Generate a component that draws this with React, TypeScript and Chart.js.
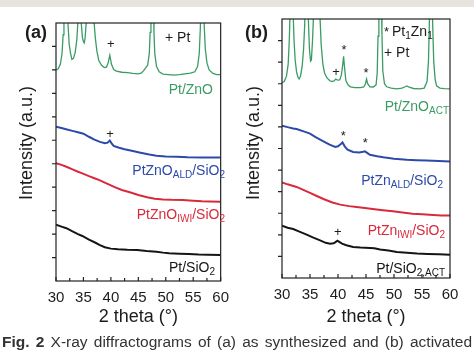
import { useEffect, useRef } from 'react';
import { Chart, registerables } from 'chart.js';
Chart.register(...registerables);

const FONT = '"Liberation Sans", Arial, Helvetica, sans-serif';

// ---------- data: [2θ (°), intensity (a.u.)] ----------
// Panel (a): as synthesized
const ptZnO: [number, number][] = [
  [30.0, 9.0], [30.4, 9.05], [30.8, 9.25], [31.1, 9.7], [31.3, 10.5], [31.45, 11.6], [31.6, 13.5], [31.75, 16],
  [31.9, 14], [32.05, 12], [32.2, 10.9], [32.4, 10.1], [32.65, 9.7], [32.9, 9.45], [33.2, 9.5], [33.5, 9.75],
  [33.8, 10.3], [34.0, 11.1], [34.15, 12.5], [34.3, 16], [34.45, 12.5], [34.6, 11.0], [34.8, 10.4], [35.0, 10.2],
  [35.15, 10.15], [35.3, 10.35], [35.5, 11.0], [35.7, 12.2], [36.0, 15], [36.25, 18], [36.5, 15], [36.8, 11.8],
  [36.95, 11.0], [37.15, 10.4], [37.45, 9.8], [37.8, 9.4], [38.3, 9.2], [38.8, 9.1], [39.2, 9.12], [39.5, 9.3],
  [39.8, 9.62], [40.1, 9.25], [40.5, 9.02], [41.0, 8.95], [42.0, 8.9], [43.0, 8.88], [44.0, 8.85], [45.0, 8.83],
  [45.6, 8.87], [46.0, 8.98], [46.3, 9.08], [46.7, 9.2], [47.0, 9.7], [47.15, 10.6], [47.3, 12.5], [47.5, 16],
  [47.7, 12.5], [47.85, 10.6], [48.0, 9.7], [48.3, 9.15], [48.8, 8.92], [49.5, 8.82], [50.5, 8.8], [51.5, 8.78],
  [52.5, 8.8], [53.5, 8.83], [54.5, 8.86], [55.3, 8.92], [55.8, 9.15], [56.1, 9.7], [56.3, 10.8], [56.45, 12.5],
  [56.65, 16], [56.85, 12.5], [57.0, 10.9], [57.2, 9.9], [57.5, 9.3], [57.9, 9.0], [58.6, 8.85], [59.3, 8.8], [60.0, 8.8],
];
const ptZnOAld: [number, number][] = [
  [30, 6.58], [31, 6.52], [32, 6.46], [33, 6.4], [34, 6.34], [35, 6.28], [36, 6.15], [37, 6.03], [38, 5.93],
  [38.9, 5.87], [39.4, 5.9], [39.8, 5.99], [40.1, 5.88], [40.5, 5.76], [41.5, 5.68], [42.5, 5.62], [44, 5.54],
  [45.4, 5.47], [47, 5.39], [48.3, 5.34], [50, 5.31], [52, 5.3], [54, 5.28], [56.6, 5.27], [58, 5.27], [60, 5.27],
];
const ptZnOIwi: [number, number][] = [
  [30, 5.02], [31, 4.95], [31.9, 4.87], [33, 4.76], [34, 4.66], [34.8, 4.59], [36, 4.47], [37, 4.38], [37.8, 4.31],
  [39, 4.18], [40, 4.08], [40.7, 4.0], [42, 3.88], [43.6, 3.77], [45, 3.67], [46.6, 3.57], [48, 3.51], [49.5, 3.48],
  [51, 3.46], [53.1, 3.45], [55, 3.42], [56.6, 3.4], [58, 3.39], [60, 3.38],
];
const ptSiO2: [number, number][] = [
  [30, 2.4], [31, 2.32], [31.9, 2.25], [33, 2.12], [34, 2.0], [34.8, 1.92], [36, 1.76], [37.2, 1.63], [38, 1.53],
  [38.9, 1.44], [40, 1.38], [41.3, 1.35], [43, 1.33], [44.8, 1.32], [46.5, 1.28], [48.3, 1.25], [49.5, 1.21],
  [50.6, 1.18], [52.5, 1.16], [54.2, 1.15], [56, 1.13], [57.7, 1.12], [60, 1.11],
];

// Panel (b): activated
const ptZnOAct: [number, number][] = [
  [30.0, 9.05], [30.4, 9.1], [30.8, 9.35], [31.1, 9.9], [31.3, 11.0], [31.45, 12.3], [31.6, 14], [31.75, 17],
  [31.9, 14], [32.0, 12.2], [32.15, 11.0], [32.35, 10.1], [32.6, 9.55], [32.85, 9.3], [33.05, 9.22], [33.3, 9.35],
  [33.6, 9.8], [33.85, 10.6], [34.05, 11.7], [34.2, 13.5], [34.4, 17], [34.6, 13], [34.72, 11.9], [34.9, 10.6],
  [35.1, 10.05], [35.25, 10.1], [35.45, 11.0], [35.6, 12.0], [35.9, 14.5], [36.2, 18], [36.5, 14.5], [36.8, 12.0],
  [37.0, 10.8], [37.3, 9.9], [37.6, 9.5], [38.0, 9.28], [38.5, 9.15], [38.9, 9.1], [39.3, 9.13], [39.6, 9.22],
  [39.9, 9.17], [40.3, 9.18], [40.6, 9.4], [40.85, 9.9], [41.0, 10.27], [41.15, 9.8], [41.4, 9.15], [41.8, 8.95],
  [42.2, 8.86], [43.0, 8.82], [44.0, 8.82], [44.6, 8.85], [44.9, 9.0], [45.1, 9.22], [45.3, 9.0], [45.7, 8.86],
  [46.3, 8.85], [46.8, 8.95], [47.0, 9.5], [47.15, 11.2], [47.3, 13.5], [47.5, 17], [47.7, 13.5], [47.85, 11.3],
  [48.0, 9.6], [48.3, 9.0], [48.7, 8.86], [49.5, 8.8], [50.5, 8.76], [51.4, 8.8], [52.0, 8.86], [52.3, 8.9],
  [52.7, 8.84], [53.5, 8.78], [54.6, 8.76], [55.4, 8.8], [55.9, 9.1], [56.15, 10.0], [56.3, 11.6], [56.45, 13.5],
  [56.6, 17], [56.75, 13.5], [56.9, 11.8], [57.1, 10.0], [57.35, 9.2], [57.6, 8.9], [58.2, 8.8], [59.0, 8.77], [60.0, 8.76],
];
const ptZnAld: [number, number][] = [
  [30, 7.06], [31, 6.99], [32, 6.93], [32.6, 6.9], [34, 6.78], [35, 6.69], [36, 6.53], [37.4, 6.33], [38.5, 6.18],
  [39.5, 6.07], [40.0, 6.1], [40.4, 6.18], [40.8, 6.28], [41.2, 6.1], [41.7, 5.95], [42.7, 5.84], [43.8, 5.82],
  [44.5, 5.85], [44.8, 5.87], [45.2, 5.8], [45.7, 5.71], [47, 5.64], [48.1, 5.59], [50, 5.53], [52.3, 5.48],
  [54, 5.46], [55.8, 5.44], [58, 5.42], [60, 5.4],
];
const ptZnIwi: [number, number][] = [
  [30, 4.43], [31, 4.34], [32.6, 4.22], [34, 4.06], [35, 3.94], [36.2, 3.8], [37.4, 3.66], [39, 3.5], [40.4, 3.4],
  [42, 3.33], [43.3, 3.29], [44.8, 3.24], [46.2, 3.2], [48, 3.14], [49.8, 3.09], [51.5, 3.04], [53.3, 2.98],
  [55, 2.95], [57, 2.92], [58.5, 2.9], [60, 2.89],
];
const ptSiO2Act: [number, number][] = [
  [30, 2.42], [31, 2.33], [32, 2.27], [33, 2.16], [34.4, 2.01], [35.5, 1.88], [36.8, 1.74], [37.8, 1.63],
  [38.6, 1.59], [39.2, 1.61], [39.5, 1.65], [39.9, 1.73], [40.3, 1.66], [40.7, 1.59], [41.5, 1.52], [42.7, 1.44],
  [44, 1.41], [45.7, 1.39], [46.5, 1.38], [47.5, 1.32], [49, 1.27], [50.5, 1.2], [52.3, 1.17], [54.1, 1.13],
  [56, 1.11], [58, 1.1], [60, 1.08],
];

// reflection markers: [symbol, 2θ, intensity]
const markersA: [string, number, number][] = [
  ['+', 40.0, 10.09],
  ['+', 39.83, 6.27],
];
const markersB: [string, number, number][] = [
  ['*', 41.07, 10.72],
  ['*', 45.0, 9.64],
  ['+', 39.64, 9.51],
  ['*', 40.95, 6.73],
  ['*', 44.88, 6.43],
  ['+', 39.95, 2.1],
];

const X_MIN = 30;
const X_MAX = 60;
const X_STEP = 5;
const X_MINOR = 2.5;
const X_TITLE = '2 theta (°)';
const Y_TITLE = 'Intensity (a.u.)';
const CAPTION_BOLD = 'Fig. 2';
const CAPTION = 'X-ray diffractograms of (a) as synthesized and (b) activated';

const GREEN = '#3a9c64';
const BLUE = '#2d4aa8';
const RED = '#d82a3b';
const BLACK = '#151515';
const TEXT = '#1c1c1c';

type Part = [string, boolean];

function drawRich(ctx: CanvasRenderingContext2D, parts: Part[], xRight: number, baseline: number, color: string) {
  const size = 14;
  const sub = 10;
  let w = 0;
  for (const [t, s] of parts) {
    ctx.font = `${s ? sub : size}px ${FONT}`;
    w += ctx.measureText(t).width;
  }
  let x = xRight - w;
  ctx.fillStyle = color;
  ctx.textAlign = 'left';
  ctx.textBaseline = 'alphabetic';
  for (const [t, s] of parts) {
    ctx.font = `${s ? sub : size}px ${FONT}`;
    ctx.fillText(t, x, baseline + (s ? 3 : 0));
    x += ctx.measureText(t).width;
  }
}

type Label = { parts: Part[]; xr: number; base: number; color: string };

type PanelDef = {
  yMax: number;
  pad: { left: number; right: number; top: number; bottom: number };
  xHeight: number;
  yTitleX: number;
  tag: string;
  tagX: number;
  series: { data: [number, number][]; color: string; width: number }[];
  markers: [string, number, number][];
  labels: Label[];
  notes: (ctx: CanvasRenderingContext2D) => void;
};

function makeDecor(def: PanelDef) {
  return {
    id: 'decor',
    afterDraw(chart: any) {
      const { ctx, chartArea } = chart;
      const { left, right, top, bottom } = chartArea;
      const xs = chart.scales.x;
      const ys = chart.scales.y;
      ctx.save();
      // frame
      ctx.strokeStyle = '#222';
      ctx.lineWidth = 1.2;
      ctx.strokeRect(left, top, right - left, bottom - top);
      // y ticks (outside)
      ctx.beginPath();
      for (let v = 1; v < def.yMax; v++) {
        const py = ys.getPixelForValue(v);
        ctx.moveTo(left - 4, py);
        ctx.lineTo(left, py);
      }
      // x ticks (inside)
      for (let v = X_MIN; v <= X_MAX + 1e-6; v += X_MINOR) {
        const px = xs.getPixelForValue(v);
        const len = Math.abs(v % X_STEP) < 1e-6 ? 4 : 3;
        ctx.moveTo(px, bottom);
        ctx.lineTo(px, bottom - len);
      }
      ctx.stroke();
      // y title
      ctx.save();
      ctx.translate(def.yTitleX, 143);
      ctx.rotate(-Math.PI / 2);
      ctx.font = `18px ${FONT}`;
      ctx.fillStyle = TEXT;
      ctx.textAlign = 'center';
      ctx.textBaseline = 'middle';
      ctx.fillText(Y_TITLE, 0, 0);
      ctx.restore();
      // panel tag
      ctx.font = `bold 18px ${FONT}`;
      ctx.fillStyle = TEXT;
      ctx.textAlign = 'left';
      ctx.textBaseline = 'alphabetic';
      ctx.fillText(def.tag, def.tagX, 38);
      // markers
      for (const [sym, mx, my] of def.markers) {
        const px = xs.getPixelForValue(mx);
        const py = ys.getPixelForValue(my);
        ctx.fillStyle = TEXT;
        ctx.textAlign = 'center';
        if (sym === '*') {
          ctx.font = `13px ${FONT}`;
          ctx.textBaseline = 'alphabetic';
          ctx.fillText(sym, px, py + 7.5);
        } else {
          ctx.font = `13px ${FONT}`;
          ctx.textBaseline = 'middle';
          ctx.fillText(sym, px, py);
        }
      }
      // series labels
      for (const l of def.labels) drawRich(ctx, l.parts, l.xr, l.base, l.color);
      def.notes(ctx);
      ctx.restore();
    },
  };
}

function makeConfig(def: PanelDef): any {
  return {
    type: 'line',
    data: {
      datasets: def.series.map((s) => ({
        data: s.data.map(([x, y]) => ({ x, y })),
        borderColor: s.color,
        borderWidth: s.width,
        pointRadius: 0,
        tension: 0,
        fill: false,
      })),
    },
    options: {
      animation: false,
      responsive: false,
      events: [],
      layout: { padding: def.pad },
      plugins: { legend: { display: false }, tooltip: { enabled: false } },
      scales: {
        x: {
          type: 'linear',
          min: X_MIN,
          max: X_MAX,
          afterFit: (s: any) => {
            s.height = def.xHeight;
          },
          grid: { display: false, drawTicks: false },
          border: { display: false },
          ticks: {
            stepSize: X_STEP,
            autoSkip: false,
            maxRotation: 0,
            padding: 8,
            color: TEXT,
            font: { family: FONT, size: 15 },
          },
          title: {
            display: true,
            text: X_TITLE,
            color: TEXT,
            font: { family: FONT, size: 18 },
            padding: { top: 0, bottom: 23 },
          },
        },
        y: { type: 'linear', min: 0, max: def.yMax, display: false },
      },
    },
    plugins: [makeDecor(def)],
  };
}

const panelA: PanelDef = {
  yMax: 11,
  pad: { left: 56, right: 11, top: 23, bottom: 0 },
  xHeight: 70,
  yTitleX: 27,
  tag: '(a)',
  tagX: 25,
  series: [
    { data: ptZnO, color: GREEN, width: 1.3 },
    { data: ptZnOAld, color: BLUE, width: 2 },
    { data: ptZnOIwi, color: RED, width: 2 },
    { data: ptSiO2, color: BLACK, width: 2 },
  ],
  markers: markersA,
  labels: [
    { parts: [['Pt/ZnO', false]], xr: 213, base: 94, color: GREEN },
    { parts: [['PtZnO', false], ['ALD', true], ['/SiO', false], ['2', true]], xr: 225, base: 175, color: BLUE },
    { parts: [['PtZnO', false], ['IWI', true], ['/SiO', false], ['2', true]], xr: 225, base: 219, color: RED },
    { parts: [['Pt/SiO', false], ['2', true]], xr: 215, base: 272, color: BLACK },
  ],
  notes: (ctx) => {
    ctx.font = `14px ${FONT}`;
    ctx.fillStyle = TEXT;
    ctx.textAlign = 'left';
    ctx.textBaseline = 'alphabetic';
    ctx.fillText('+ Pt', 165, 42);
  },
};

const panelB: PanelDef = {
  yMax: 12,
  pad: { left: 45, right: 24, top: 19, bottom: 0 },
  xHeight: 73,
  yTitleX: 17,
  tag: '(b)',
  tagX: 8,
  series: [
    { data: ptZnOAct, color: GREEN, width: 1.3 },
    { data: ptZnAld, color: BLUE, width: 2 },
    { data: ptZnIwi, color: RED, width: 2 },
    { data: ptSiO2Act, color: BLACK, width: 2 },
  ],
  markers: markersB,
  labels: [
    { parts: [['Pt/ZnO', false], ['ACT', true]], xr: 212, base: 111, color: GREEN },
    { parts: [['PtZn', false], ['ALD', true], ['/SiO', false], ['2', true]], xr: 206, base: 185, color: BLUE },
    { parts: [['PtZn', false], ['IWI', true], ['/SiO', false], ['2', true]], xr: 208, base: 235, color: RED },
    { parts: [['Pt/SiO', false], ['2,ACT', true]], xr: 208, base: 273, color: BLACK },
  ],
  notes: (ctx) => {
    ctx.fillStyle = TEXT;
    ctx.textAlign = 'left';
    ctx.textBaseline = 'alphabetic';
    ctx.font = `13px ${FONT}`;
    ctx.fillText('*', 147, 36);
    const parts: Part[] = [['Pt', false], ['1', true], ['Zn', false], ['1', true]];
    let x = 155;
    for (const [t, s] of parts) {
      ctx.font = `${s ? 10 : 14}px ${FONT}`;
      ctx.fillText(t, x, 36 + (s ? 3 : 0));
      x += ctx.measureText(t).width;
    }
    ctx.font = `14px ${FONT}`;
    ctx.fillText('+ Pt', 147, 57);
  },
};

function Panel({ def, left }: { def: PanelDef; left: number }) {
  const ref = useRef<HTMLCanvasElement>(null);
  useEffect(() => {
    const chart = new Chart(ref.current as HTMLCanvasElement, makeConfig(def));
    return () => chart.destroy();
  }, [def]);
  return (
    <canvas
      ref={ref}
      width={237}
      height={351}
      style={{ position: 'absolute', left, top: 0, width: 237, height: 351 }}
    />
  );
}

export default function App() {
  return (
    <div
      style={{
        position: 'fixed',
        left: 0,
        top: 0,
        width: 474,
        height: 351,
        overflow: 'hidden',
        background: '#fff',
      }}
    >
      <div style={{ position: 'absolute', left: 0, top: 0, width: 474, height: 7, background: '#e7e4df' }} />
      <Panel def={panelA} left={0} />
      <Panel def={panelB} left={237} />
      <div
        style={{
          position: 'absolute',
          left: 2,
          top: 334,
          width: 470,
          font: `15.5px ${FONT}`,
          lineHeight: '16px',
          color: '#333',
          textAlign: 'justify',
          textAlignLast: 'justify',
        }}
      >
        <b>{CAPTION_BOLD}</b> {CAPTION}
      </div>
    </div>
  );
}
